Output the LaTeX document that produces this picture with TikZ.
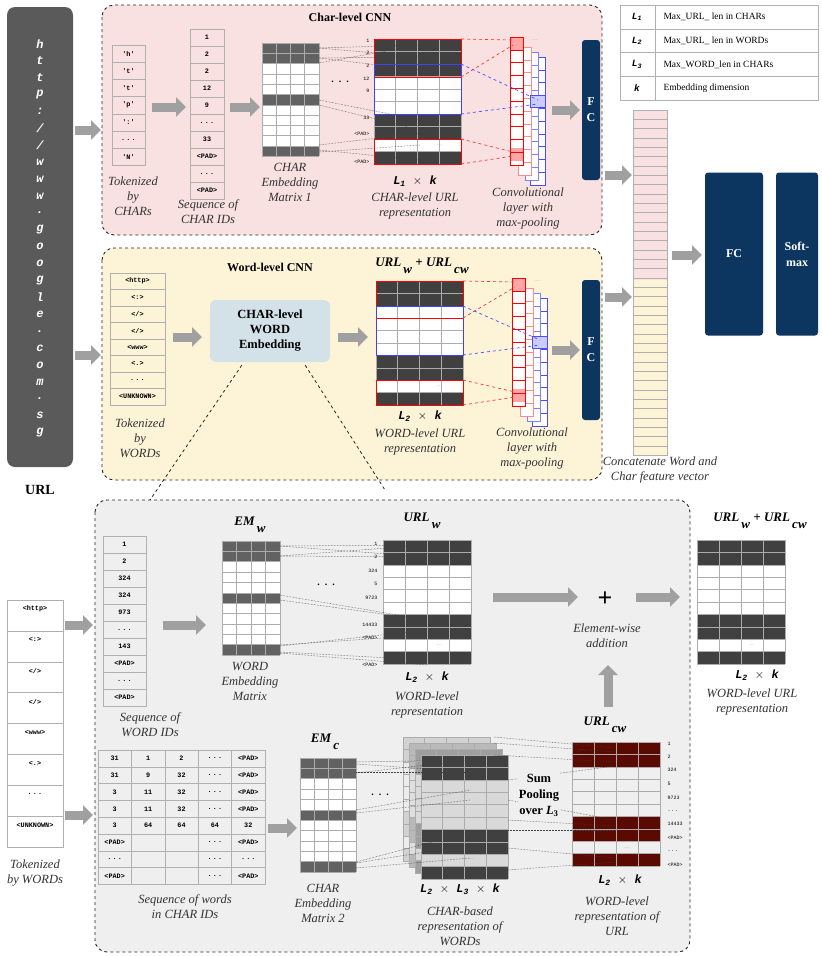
\documentclass[tikz,border=0pt]{standalone}
\usepackage{fontspec}
\setmainfont{Liberation Serif}
\setmonofont{Liberation Mono}
\usetikzlibrary{arrows.meta}
\definecolor{pinkbg}{HTML}{F9E1E1}
\definecolor{yellowbg}{HTML}{FDF4D8}
\definecolor{graybg}{HTML}{EFEFEF}
\definecolor{mdark}{HTML}{404040}
\definecolor{edark}{HTML}{626262}
\definecolor{navy}{HTML}{0C3660}
\definecolor{lblue}{HTML}{D3E2E8}
\definecolor{dred}{HTML}{5A0A00}
\definecolor{arrc}{HTML}{A0A0A0}
\definecolor{urlc}{HTML}{5A5A5A}
\definecolor{cellc}{HTML}{B0B0B0}
\newcommand\ddd{.\,.\,.}
\newcommand\mymat[9]{% x0,y0,w,rowh,nrows,ncols,darkrows,darkcolor,lightcolor
  \fill[#9] (#1,#2) rectangle ++(#3,{#5*#4});
  \foreach \r in {#7} {\fill[#8] (#1,{#2+\r*#4}) rectangle ++(#3,#4);}
  \foreach \r in {0,...,#5} {\draw[gray!65,line width=0.6pt] (#1,{#2+\r*#4}) -- ++(#3,0);}
  \foreach \c in {0,...,#6} {\draw[gray!65,line width=0.6pt] ({#1+\c*#3/#6},#2) -- ++(0,{#5*#4});}
}
\newcommand\tcol[6]{% x0,y0,w,h,texty,list
  \foreach \t [count=\i from 0] in {#6} {
    \draw[cellc,line width=0.6pt] (#1,{#2+\i*#4}) rectangle ++(#3,#4);
    \node[font=\ttfamily\bfseries\fontsize{6.8}{7}\selectfont] at ({#1+#3/2},{#2+\i*#4+#5}) {\t};
  }}
\newcommand\conv[2]{% x,y of front red column
  \begin{scope}[shift={(#1,#2)}]
   \foreach \dx/\dy/\cc/\ww in {20/20/blue!70/15,15/15/blue!50/13,8/10/red!45/13} {
     \fill[white] (\dx,\dy) rectangle ++(\ww,128);
     \foreach \k in {0,...,10} {\draw[\cc,line width=0.6pt] (\dx,{\dy+\k*12.8}) -- ++(\ww,0);}
     \draw[\cc,line width=0.7pt] (\dx,\dy) rectangle ++(\ww,128);
   }
   \fill[blue!20] (20,58) rectangle ++(15,12);
   \draw[blue!70,line width=0.7pt] (20,58) rectangle ++(15,12);
   \fill[white] (0,0) rectangle ++(13,128);
   \fill[red!35] (0,0) rectangle ++(13,12.8);
   \fill[red!35] (0,111) rectangle ++(13,12.8);
   \foreach \k in {0,...,10} {\draw[red,line width=0.6pt] (0,{\k*12.8}) -- ++(13,0);}
   \draw[red,line width=0.8pt] (0,0) rectangle ++(13,128);
   \node[font=\tiny,gray] at (25,3) {\ddd};
  \end{scope}}
\tikzset{
  bar/.style={draw=arrc,line width=9pt,-{Triangle[width=19pt,length=10pt]}},
  lab/.style={font=\itshape\fontsize{12.5}{15}\selectfont,align=center,text=black!80},
  dimlab/.style={font=\ttfamily\bfseries\itshape\fontsize{12}{14}\selectfont},
  ttl/.style={font=\bfseries\fontsize{12}{14}\selectfont},
  dl/.style={densely dotted,gray!50!black,line width=0.5pt},
  rd/.style={dashed,red!80,line width=0.7pt},
  bd/.style={dashed,blue!70,line width=0.7pt},
  tiny lab/.style={font=\ttfamily\fontsize{5}{6}\selectfont},
  box/.style={draw=black!85,dashed,line width=0.9pt,rounded corners=12pt},
  fc/.style={fill=navy,rounded corners=3pt,text=white,font=\bfseries\fontsize{12}{16}\selectfont,align=center,inner sep=0pt}
}
\begin{document}
\begin{tikzpicture}[x=1pt,y=-1pt]
\useasboundingbox (0,0) rectangle (822,956);
\fill[white] (0,0) rectangle (822,956);
% URL bar
\node[fill=urlc,rounded corners=8pt,minimum width=66pt,minimum height=460pt,inner sep=0pt] (url) at (40,237) {};
\foreach \ch [count=\i from 0] in {h,t,t,p,:,/,/,w,w,w,.,g,o,o,g,l,e,.,c,o,m,.,s,g}
  {\node[text=white,font=\ttfamily\bfseries\itshape\fontsize{12}{12}\selectfont] at (40,{44+\i*16.9}) {\ch};}
\node[ttl,font=\bfseries\fontsize{14}{16}\selectfont] (urllab) at (40,490) {URL};
% legend
\draw[cellc,line width=0.7pt] (620,5) rectangle (818,100);
\foreach \yy in {29,52,76} {\draw[cellc,line width=0.7pt] (620,\yy) -- (818,\yy);}
\draw[cellc,line width=0.7pt] (655,5) -- (655,100);
\foreach \a/\b [count=\i from 0] in {L\textsubscript{1}/Max\_URL\_ len in CHARs,L\textsubscript{2}/Max\_URL\_ len in WORDs,L\textsubscript{3}/Max\_WORD\_len in CHARs,k/Embedding dimension}{
  \node[font=\ttfamily\bfseries\itshape\fontsize{9.5}{10}\selectfont] at (637,{17+\i*23.7}) {\a};
  \node[anchor=west,font=\fontsize{9.5}{10}\selectfont] at (660,{17+\i*23.7}) {\b};}
% ===== Char-level CNN =====
\draw[box,fill=pinkbg] (102,5) rectangle (602,235);
\node[ttl] (t1) at (350,17) {Char-level CNN};
\tcol{112}{45}{33}{17.2}{8.6}{'h','t','t','p',':',\ddd,'N'}
\node[lab] (l1) at (133,196) {Tokenized\\by\\CHARs};
\tcol{190}{29}{34}{17}{8.5}{1,2,2,12,9,\ddd,33,<PAD>,\ddd,<PAD>}
\node[lab] (l2) at (208,212) {Sequence of\\CHAR IDs};
\mymat{262}{43}{57}{10.3}{11}{4}{0,1,5,10}{edark}{white}
\node[lab] (l3) at (290,182) {CHAR\\Embedding\\Matrix 1};
\node[font=\bfseries] at (340,82) {.\ \ .\ \ .};
\mymat{374}{39}{87}{12.5}{10}{4}{0,1,2,6,7,9}{mdark}{white}
\node[font=\tiny,gray] at (440,145) {\ddd};
\foreach \tt/\yy in {1/41,2/53,2/66,12/79,9/91,33/118,<PAD>/134,<PAD>/162}{\node[tiny lab,anchor=east] at (373,\yy) {\tt};}
\draw[red,line width=1pt] (374,39) rectangle (461,77);
\draw[blue!75,line width=1pt] (374,64) rectangle (461,114);
\draw[red,line width=1pt] (374,139) rectangle (461,164);
\foreach \a/\b in {48/45,48/57,58/57,58/70,63/45,100/120,105/130,150/160,152/145,145/133}{\draw[dl] (319,\a) -- (420,\b);}
\node[dimlab] (d1) at (415,181) {L\textsubscript{1} $\times$ k};
\node[lab] (l4) at (415,206) {CHAR-level URL\\representation};
\conv{510}{37}
\draw[rd] (461,39) -- (512,40); \draw[rd] (461,77) -- (513,45);
\draw[bd] (461,64) -- (538,100); \draw[bd] (461,114) -- (538,104);
\draw[rd] (461,139) -- (513,152); \draw[rd] (461,164) -- (513,156);
\node[lab] (l5) at (528,208) {Convolutional\\layer with\\max-pooling};
\coordinate (a1s) at (152,107); \coordinate (a1e) at (186,107);
\draw[bar] (a1s) -- (a1e);
\coordinate (a2s) at (230,107); \coordinate (a2e) at (260,107);
\draw[bar] (a2s) -- (a2e);
\coordinate (a3s) at (552,110); \coordinate (a3e) at (580,110);
\draw[bar] (a3s) -- (a3e);
\node[fc,minimum width=18pt,minimum height=140pt] (fc1) at (591,110) {F\\C};
% ===== Word-level CNN =====
\draw[box,fill=yellowbg] (102,248) rectangle (602,480);
\node[ttl] (t2) at (270,267) {Word-level CNN};
\tcol{110}{273}{55}{16.5}{8.2}{<http>,<:>,</>,</>,<www>,<.>,\ddd,<UNKNOWN>}
\node[lab] (l6) at (140,438) {Tokenized\\by\\WORDs};
\node[fill=lblue,rounded corners=6pt,minimum width=120pt,minimum height=62pt,align=center,font=\bfseries\fontsize{12.5}{15}\selectfont] (cwe) at (270,331) {CHAR-level\\WORD\\Embedding};
\mymat{376}{281}{87}{12.4}{10}{4}{0,1,6,7,9}{mdark}{white}
\node[font=\tiny,gray] at (440,386) {\ddd};
\draw[red,line width=1pt] (376,281) rectangle (463,318);
\draw[blue!75,line width=1pt] (376,306) rectangle (463,355);
\draw[red,line width=1pt] (376,380) rectangle (463,405);
\node[font=\bfseries\itshape\fontsize{13}{14}\selectfont] (u1) at (422,266) {URL\,\raisebox{-7pt}{w} + URL\,\raisebox{-7pt}{cw}};
\node[dimlab] (d2) at (420,416) {L\textsubscript{2} $\times$ k};
\node[lab] (l7) at (420,442) {WORD-level URL\\representation};
\conv{512}{278}
\draw[rd] (463,281) -- (514,282); \draw[rd] (463,318) -- (515,287);
\draw[bd] (463,306) -- (540,340); \draw[bd] (463,355) -- (540,345);
\draw[rd] (463,380) -- (515,392); \draw[rd] (463,405) -- (515,397);
\node[lab] (l8) at (532,448) {Convolutional\\layer with\\max-pooling};
\coordinate (b1s) at (173,337); \coordinate (b1e) at (202,337);
\draw[bar] (b1s) -- (b1e);
\coordinate (b2s) at (338,337); \coordinate (b2e) at (368,337);
\draw[bar] (b2s) -- (b2e);
\coordinate (b3s) at (552,350); \coordinate (b3e) at (580,350);
\draw[bar] (b3s) -- (b3e);
\node[fc,minimum width=18pt,minimum height=140pt] (fc2) at (591,350) {F\\C};
% URL arrows
\coordinate (u1s) at (75,130); \coordinate (u1e) at (101,130);
\draw[bar] (u1s) -- (u1e);
\coordinate (u2s) at (75,355); \coordinate (u2e) at (101,355);
\draw[bar] (u2s) -- (u2e);
% concatenate vector
\fill[pinkbg] (633,110) rectangle (667,280);
\fill[yellowbg] (633,280) rectangle (667,455);
\foreach \k in {0,...,37} {\draw[cellc,line width=0.4pt] (633,{110+\k*9.33}) -- (667,{110+\k*9.33});}
\draw[cellc,line width=0.6pt] (633,110) rectangle (667,455);
\node[lab] (l9) at (660,470) {Concatenate Word and\\Char feature vector};
\coordinate (c1s) at (605,175); \coordinate (c1e) at (632,175);
\draw[bar] (c1s) -- (c1e);
\coordinate (c2s) at (605,297); \coordinate (c2e) at (632,297);
\draw[bar] (c2s) -- (c2e);
\coordinate (c3s) at (672,255); \coordinate (c3e) at (702,255);
\draw[bar] (c3s) -- (c3e);
\node[fc,minimum width=58pt,minimum height=163pt] (fc3) at (734,254) {FC};
\node[fc,minimum width=42pt,minimum height=163pt] (sm) at (797,254) {Soft-\\max};
% ===== bottom detail =====
\draw[dashed,black!85,line width=0.8pt] (cwe.south west)++(32,3) -- (150,500);
\draw[dashed,black!85,line width=0.8pt] (cwe.south east)++(-25,3) -- (385,490);
\draw[box,fill=graybg] (95,500) rectangle (690,952);
% left tokens
\foreach \t [count=\i from 0] in {<http>,<:>,</>,</>,<www>,<.>,\ddd,<UNKNOWN>}{
  \draw[cellc,fill=white,line width=0.6pt] (7,{600+\i*30.9}) rectangle ++(56,30.9);
  \node[font=\ttfamily\bfseries\fontsize{6.8}{7}\selectfont] at (35,{609+\i*30.9}) {\t};}
\node[lab] (l10) at (35,873) {Tokenized\\by WORDs};
\coordinate (e1s) at (65,625); \coordinate (e1e) at (93,625);
\draw[bar] (e1s) -- (e1e);
\coordinate (e2s) at (65,815); \coordinate (e2e) at (93,815);
\draw[bar] (e2s) -- (e2e);
\tcol{103}{536}{43}{17}{8.5}{1,2,324,324,973,\ddd,143,<PAD>,\ddd,<PAD>}
\node[lab] (l11) at (150,725) {Sequence of\\WORD IDs};
\coordinate (e3s) at (163,625); \coordinate (e3e) at (206,625);
\draw[bar] (e3s) -- (e3e);
\mymat{222}{541}{58}{10.36}{11}{4}{0,1,5,10}{edark}{white}
\node[font=\bfseries\itshape\fontsize{13}{14}\selectfont] (emw) at (250,525) {EM\,\raisebox{-7pt}{w}};
\node[lab] (l12) at (250,681) {WORD\\Embedding\\Matrix};
\node[font=\bfseries] at (326,585) {.\ \ .\ \ .};
\mymat{383}{540}{88}{12.4}{10}{4}{0,1,6,7,9}{mdark}{white}
\node[font=\tiny,gray] at (439,645) {\ddd};
\foreach \tt/\yy in {1/544,2/557,324/571,5/584,9723/598,14433/625,<PAD>/638,<PAD>/665}{\node[tiny lab,anchor=east] at (381,\yy) {\tt};}
\foreach \a/\b in {546/545,546/557,556/557,556/545,595/620,600/620,645/635,646/630,652/660,653/665}{\draw[dl] (280,\a) -- (427,\b);}
\node[font=\bfseries\itshape\fontsize{13}{14}\selectfont] (uw) at (422,521) {URL\,\raisebox{-7pt}{w}};
\node[dimlab] (d3) at (427,677) {L\textsubscript{2} $\times$ k};
\node[lab] (l13) at (427,705) {WORD-level\\representation};
\coordinate (f1s) at (493,597); \coordinate (f1e) at (578,597);
\draw[bar] (f1s) -- (f1e);
\node[font=\bfseries\fontsize{26}{26}\selectfont] (plus) at (605,599) {+};
\node[lab] (l14) at (607,636) {Element-wise\\addition};
\coordinate (f2s) at (636,597); \coordinate (f2e) at (680,597);
\draw[bar] (f2s) -- (f2e);
\coordinate (f3s) at (608,707); \coordinate (f3e) at (608,665);
\draw[bar] (f3s) -- (f3e);
\mymat{697}{540}{88}{12.4}{10}{4}{0,1,6,7,9}{mdark}{white}
\node[font=\tiny,gray] at (752,645) {\ddd};
\node[font=\bfseries\itshape\fontsize{13}{14}\selectfont] (uwc) at (760,521) {URL\,\raisebox{-7pt}{w} + URL\,\raisebox{-7pt}{cw}};
\node[dimlab] (d4) at (757,675) {L\textsubscript{2} $\times$ k};
\node[lab] (l15) at (752,702) {WORD-level URL\\representation};
% char table
\foreach \rw [count=\i from 0] in {{31,1,2,\ddd,<PAD>},{31,9,32,\ddd,<PAD>},{3,11,32,\ddd,<PAD>},{3,11,32,\ddd,<PAD>},{3,64,64,64,32},{<PAD>,{},{},\ddd,<PAD>},{\ddd,{},{},\ddd,\ddd},{<PAD>,{},{},\ddd,<PAD>}}{
  \foreach \c [count=\j from 0] in \rw {
    \draw[cellc,line width=0.6pt] ({98+\j*33.4},{750+\i*16.8}) rectangle ++(33.4,16.8);
    \node[font=\ttfamily\bfseries\fontsize{6.8}{7}\selectfont] at ({98+\j*33.4+16.7},{750+\i*16.8+8.4}) {\c};}}
\node[lab] (l16) at (185,907) {Sequence of words\\in CHAR IDs};
\coordinate (g1s) at (268,828); \coordinate (g1e) at (297,828);
\draw[bar] (g1s) -- (g1e);
\mymat{300}{758}{56}{10.36}{11}{4}{0,1,5,10}{edark}{white}
\node[font=\bfseries\itshape\fontsize{13}{14}\selectfont] (emc) at (325,742) {EM\,\raisebox{-7pt}{c}};
\node[lab] (l17) at (323,903) {CHAR\\Embedding\\Matrix 2};
\node[font=\bfseries] at (380,795) {.\ \ .\ \ .};
\mymat{403}{737}{87}{12.4}{10}{4}{0,1,6,7,9}{gray!35}{gray!15}
\mymat{409}{743}{87}{12.4}{10}{4}{0,1,6,7,9}{gray!55}{gray!25}
\mymat{415}{749}{87}{12.4}{10}{4}{0,1,6,7,9}{gray!75}{gray!30}
\mymat{421}{755}{87}{12.4}{10}{4}{0,1,6,7,9}{mdark}{gray!30}
\node[font=\tiny,gray] at (471,859) {\ddd};
\foreach \a/\b in {762/760,764/772,772/772,773/760,810/790,813/800,862/832,863/845,868/858}{\draw[dl] (356,\a) -- (470,\b);}
\node[dimlab] (d5) at (460,889) {L\textsubscript{2} $\times$ L\textsubscript{3} $\times$ k};
\node[lab] (l18) at (460,926) {CHAR-based\\representation of\\WORDs};
\mymat{572}{742}{88}{12.4}{10}{4}{0,1,6,7,9}{dred}{graybg}
\node[font=\tiny,gray] at (627,848) {\ddd};
\foreach \tt/\yy in {1/744,2/757,324/770,5/784,9723/798,\ddd/811,14433/824,<PAD>/838,\ddd/851,<PAD>/865}{\node[tiny lab,anchor=west] at (664,\yy) {\tt};}
\foreach \a/\b in {737/748,743/752,755/762,780/766,800/820,820/826,830/830,848/858,870/862}{\draw[dl] ({\a<760 ? 494 : 508},\a) -- (615,\b);}
\node[font=\bfseries\fontsize{12.5}{16}\selectfont,align=center,fill=graybg,inner sep=1pt] (sp) at (539,795) {Sum\\Pooling\\over \textit{L}\textsubscript{3}};
\node[font=\bfseries\itshape\fontsize{13}{14}\selectfont] (ucw) at (605,725) {URL\,\raisebox{-7pt}{cw}};
\node[dimlab] (d6) at (620,880) {L\textsubscript{2} $\times$ k};
\node[lab] (l19) at (617,916) {WORD-level\\representation of\\URL};
\end{tikzpicture}
\end{document}
